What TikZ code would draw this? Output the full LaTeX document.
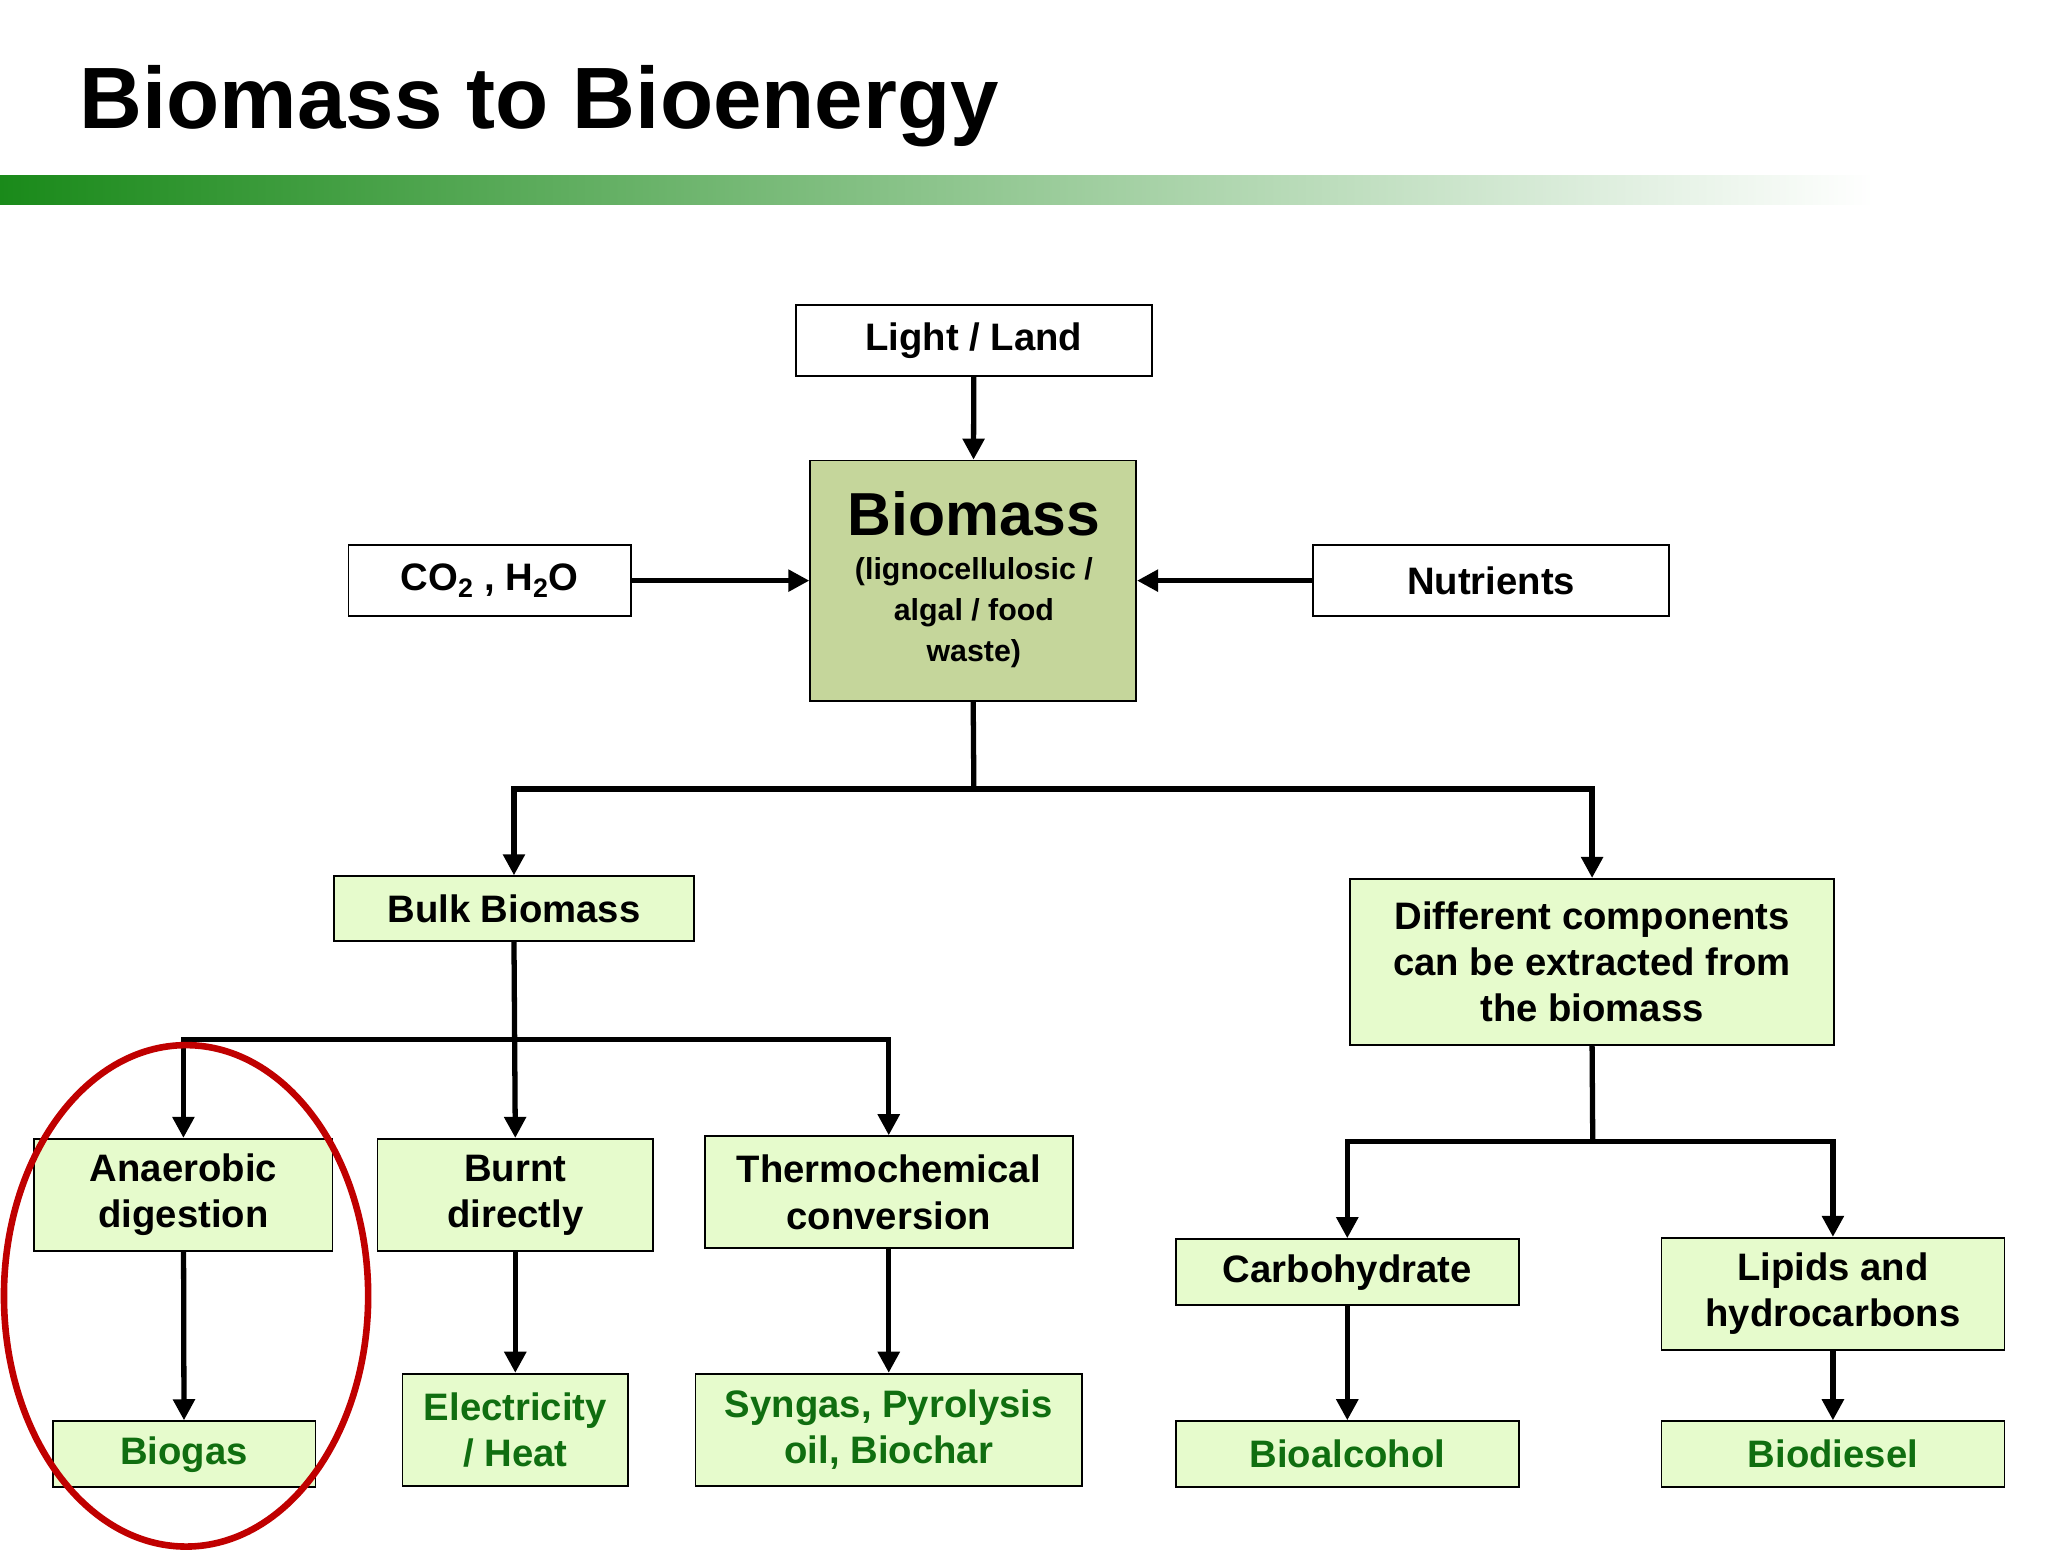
\documentclass[tikz,border=0pt]{standalone}
\usepackage{fontspec}
\setmainfont{Liberation Sans}
\usetikzlibrary{arrows.meta}
\definecolor{olive}{HTML}{C5D69B}
\definecolor{lgreen}{HTML}{E6FBCC}
\definecolor{dgreen}{HTML}{106E10}
\definecolor{barg}{HTML}{1A8A1A}
\definecolor{myred}{HTML}{C00000}
\tikzset{
 box/.style={draw=black, line width=1.3pt, align=center, font=\fontsize{29}{35}\selectfont\bfseries, inner sep=0pt},
 wbox/.style={box, fill=white},
 gbox/.style={box, fill=lgreen},
 obox/.style={box, fill=lgreen, text=dgreen},
 con/.style={line width=4pt},
 arr/.style={line width=4pt, -{Triangle[length=16pt,width=16pt]}},
}
\begin{document}
\begin{tikzpicture}[x=1pt,y=-1pt]
\useasboundingbox (0,0) rectangle (1552,1176);
\fill[white] (0,0) rectangle (1552,1176);
\node[anchor=base west, font=\fontsize{66}{76}\selectfont\bfseries, inner sep=0pt] (title) at (60,97) {Biomass to Bioenergy};
\shade[left color=barg, right color=white] (0,133) rectangle (1420,155);
\node[wbox, minimum width=270pt, minimum height=54pt] (light) at (738,258) {Light / Land};
\node[box, fill=olive, minimum width=247pt, minimum height=182pt] (bio) at (737.5,440) {};
\node[font=\fontsize{46}{50}\selectfont\bfseries, inner sep=0pt] (biot) at (738,389) {Biomass};
\node[align=center, font=\fontsize{23}{31}\selectfont\bfseries, inner sep=0pt] (biosub) at (738,464) {(lignocellulosic /\\algal / food\\waste)};
\node[wbox, minimum width=214pt, minimum height=54pt] (co2) at (371,440) {CO\textsubscript{2} , H\textsubscript{2}O};
\node[wbox, minimum width=270pt, minimum height=54pt] (nut) at (1130,440) {Nutrients};
\node[gbox, minimum width=273pt, minimum height=49pt] (bulk) at (389.5,688.5) {Bulk Biomass};
\node[gbox, minimum width=367pt, minimum height=126pt] (diff) at (1206.5,729) {Different components\\can be extracted from\\the biomass};
\node[gbox, minimum width=226pt, minimum height=85pt] (ana) at (139,905.5) {Anaerobic\\digestion};
\node[gbox, minimum width=209pt, minimum height=85pt] (burnt) at (390.5,905.5) {Burnt\\directly};
\node[gbox, minimum width=279pt, minimum height=85pt] (thermo) at (673.5,903.5) {Thermochemical\\conversion};
\node[obox, minimum width=199pt, minimum height=50pt] (biogas) at (139.5,1102) {Biogas};
\node[obox, minimum width=171pt, minimum height=85pt] (elec) at (390.5,1083.5) {Electricity\\/ Heat};
\node[obox, minimum width=293pt, minimum height=85pt] (syn) at (673.5,1083.5) {Syngas, Pyrolysis\\oil, Biochar};
\node[gbox, minimum width=260pt, minimum height=50pt] (carb) at (1021,964) {Carbohydrate};
\node[gbox, minimum width=260pt, minimum height=85pt] (lip) at (1389,980.5) {Lipids and\\hydrocarbons};
\node[obox, minimum width=260pt, minimum height=50pt] (alc) at (1021,1102) {Bioalcohol};
\node[obox, minimum width=260pt, minimum height=50pt] (dies) at (1389,1102) {Biodiesel};
\draw[arr] (light) -- (bio);
\draw[arr] (co2) -- (bio);
\draw[arr] (nut) -- (bio);
\coordinate (j1) at (738,598);
\draw[con] (bio.south) -- (j1);
\draw[arr] (j1) -| (bulk.north);
\draw[arr] (j1) -| (diff.north);
\coordinate (j2) at (390,788);
\draw[con] (bulk.south) -- (j2);
\draw[arr] (j2) -| (ana.north);
\draw[arr] (j2) -- (burnt.north);
\draw[arr] (j2) -| (thermo.north);
\coordinate (j3) at (1207,865);
\draw[con] (diff.south) -- (j3);
\draw[arr] (j3) -| (carb.north);
\draw[arr] (j3) -| (lip.north);
\draw[arr] (ana) -- (biogas);
\draw[arr] (burnt) -- (elec);
\draw[arr] (thermo) -- (syn);
\draw[arr] (carb) -- (alc);
\draw[arr] (lip) -- (dies);
\draw[myred, line width=5pt] (141,982) ellipse [x radius=138pt, y radius=190pt];
\end{tikzpicture}
\end{document}
